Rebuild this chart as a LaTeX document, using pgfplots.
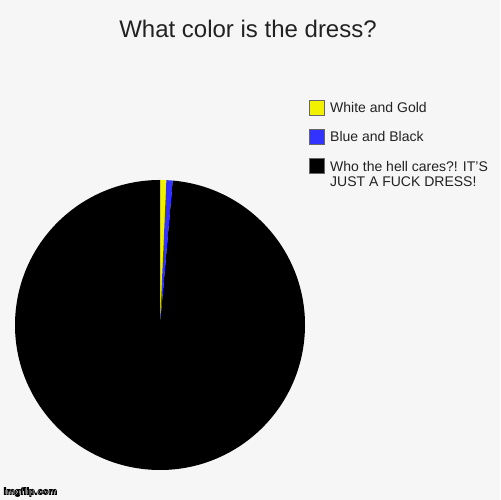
\documentclass[border=0pt]{standalone}
\usepackage{pgfplots}
\pgfplotsset{compat=1.18}
\usepackage{pgfplotstable}
\usepackage{fontspec}
\setmainfont{Liberation Sans}
\definecolor{bg}{HTML}{F6F6F6}
\definecolor{cyel}{HTML}{F2F200}
\definecolor{cblue}{HTML}{3333FF}
\definecolor{cblack}{HTML}{000000}
\definecolor{cborder}{HTML}{666666}
\definecolor{ctext}{HTML}{222222}
\pgfplotstableread{
label value
White 0.7
Blue 0.7
Black 98.6
}\piedata
\pgfplotstablegetelem{0}{value}\of\piedata \let\va\pgfplotsretval
\pgfplotstablegetelem{1}{value}\of\piedata \let\vb\pgfplotsretval
\pgfplotstablegetelem{2}{value}\of\piedata \let\vc\pgfplotsretval
\pgfmathsetmacro\tot{\va+\vb+\vc}
\pgfmathsetmacro\aA{90}
\pgfmathsetmacro\aB{90-360*\va/\tot}
\pgfmathsetmacro\aC{\aB-360*\vb/\tot}
\pgfmathsetmacro\aD{-270}
\newcommand\wm{\fontsize{9.5bp}{10bp}\selectfont\bfseries\color{white}\special{pdf:literal direct 2 Tr 0.8 w 0 0 0 RG}imgflip.com\special{pdf:literal direct 0 Tr}}
\begin{document}
\begin{tikzpicture}
\begin{axis}[x=1bp,y=1bp,xmin=0,xmax=500,ymin=0,ymax=500,hide axis,scale only axis,
  clip=false]
\fill[bg] (axis cs:0,0) rectangle (axis cs:500,500);
\fill[cyel] (axis cs:160,175) -- ++(\aA:145bp) arc[start angle=\aA,end angle=\aB,radius=145bp] -- cycle;
\fill[cblue] (axis cs:160,175) -- ++(\aB:145bp) arc[start angle=\aB,end angle=\aC,radius=145bp] -- cycle;
\fill[cblack] (axis cs:160,175) -- ++(\aC:145bp) arc[start angle=\aC,end angle=\aD,radius=145bp] -- cycle;
\node[anchor=base,inner sep=0pt,font=\fontsize{24bp}{28bp}\selectfont,text=ctext] at (axis cs:248,462) {What color is the dress?};
% legend
\filldraw[fill=cyel,draw=cborder,line width=0.8bp] (axis cs:309.5,385) rectangle (axis cs:324.5,400);
\filldraw[fill=cblue,draw=cborder,line width=0.8bp] (axis cs:309.5,356) rectangle (axis cs:324.5,371);
\filldraw[fill=cblack,draw=cborder,line width=0.8bp] (axis cs:309.5,327) rectangle (axis cs:324.5,342);
\node[anchor=base west,inner sep=0pt,font=\fontsize{14bp}{16bp}\selectfont,text=ctext] at (axis cs:330,387) {White and Gold};
\node[anchor=base west,inner sep=0pt,font=\fontsize{14bp}{16bp}\selectfont,text=ctext] at (axis cs:330,358) {Blue and Black};
\node[anchor=base west,inner sep=0pt,font=\fontsize{14bp}{16bp}\selectfont,text=ctext] at (axis cs:330,328) {Who the hell cares?! IT'S};
\node[anchor=base west,inner sep=0pt,font=\fontsize{14bp}{16bp}\selectfont,text=ctext] at (axis cs:330,313) {JUST A FUCK DRESS!};
\node[anchor=base west,inner sep=0pt] at (axis cs:3.5,5.5) {\wm};
\end{axis}
\end{tikzpicture}
\end{document}
